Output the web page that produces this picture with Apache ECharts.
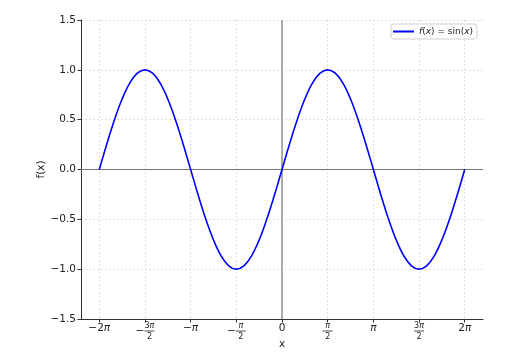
<!DOCTYPE html>
<html>
<head>
<meta charset="utf-8">
<script src="https://cdn.jsdelivr.net/npm/echarts@6/dist/echarts.min.js"></script>
<style>
html,body{margin:0;padding:0;background:#fff;}
#chart{width:524px;height:353px;}
</style>
</head>
<body>
<div id="chart"></div>
<script>
// Sample points (x in radians, y = f(x))
const xValues = [-6.283,-6.021,-5.760,-5.498,-5.236,-4.974,-4.712,-4.451,-4.189,-3.927,-3.665,-3.403,-3.142,-2.880,-2.618,-2.356,-2.094,-1.833,-1.571,-1.309,-1.047,-0.785,-0.524,-0.262,0,0.262,0.524,0.785,1.047,1.309,1.571,1.833,2.094,2.356,2.618,2.880,3.142,3.403,3.665,3.927,4.189,4.451,4.712,4.974,5.236,5.498,5.760,6.021,6.283];
const yValues = [0,0.259,0.5,0.707,0.866,0.966,1,0.966,0.866,0.707,0.5,0.259,0,-0.259,-0.5,-0.707,-0.866,-0.966,-1,-0.966,-0.866,-0.707,-0.5,-0.259,0,0.259,0.5,0.707,0.866,0.966,1,0.966,0.866,0.707,0.5,0.259,0,-0.259,-0.5,-0.707,-0.866,-0.966,-1,-0.966,-0.866,-0.707,-0.5,-0.259,0];
const xTickPositions = [-6.2832,-4.7124,-3.1416,-1.5708,0,1.5708,3.1416,4.7124,6.2832];
const xTickLabels = ['−2π','−3π/2','−π','−π/2','0','π/2','π','3π/2','2π'];
const yTicks = [-1.5,-1.0,-0.5,0.0,0.5,1.0,1.5];
const seriesName = 'f(x) = sin(x)';
const xAxisTitle = 'x';
const yAxisTitle = 'f(x)';

const FONT = 'DejaVu Sans';
const TXT = '#222';

function richLabel(lbl){
  if (lbl.indexOf('/') >= 0) {
    const neg = lbl[0] === '−';
    const body = neg ? lbl.slice(1) : lbl;
    const parts = body.split('/');
    const num = parts[0];
    const den = parts[1];
    const numRich = num.split('').map(ch => ch === 'π' ? '{p|π}' : '{n|' + ch + '}').join('');
    const lead0 = neg ? '{m0|}' : '';
    const lead = neg ? '{m|−}' : '';
    return lead0 + numRich + '\n' + lead + '{bar| }' + '\n' + lead0 + '{n|' + den + '}';
  }
  return lbl.split('').map(ch => ch === 'π' ? '{pi|π}' : '{t|' + ch + '}').join('');
}

const data = xValues.map((x, i) => [x, yValues[i]]);
const chart = echarts.init(document.getElementById('chart'), null, {renderer: 'canvas'});
chart.setOption({
  animation: false,
  backgroundColor: '#fff',
  grid: {left: 81, right: 41, top: 20, bottom: 34, containLabel: false, outerBoundsMode: 'none'},
  legend: {
    right: 47, top: 24,
    orient: 'vertical',
    padding: [2, 4, 2, 2],
    backgroundColor: '#fff',
    borderColor: '#d0d0d0',
    borderWidth: 1,
    borderRadius: 3,
    itemWidth: 21,
    itemHeight: 2,
    itemGap: 4,
    textStyle: {
      fontFamily: FONT, fontSize: 9, color: TXT, lineHeight: 11,
      rich: {
        i: {fontFamily: FONT, fontSize: 9, fontStyle: 'italic', color: TXT},
        r: {fontFamily: FONT, fontSize: 9, color: TXT}
      }
    },
    formatter: function(){ return '{i|f}{r|(}{i|x}{r|) = sin(}{i|x}{r|)}'; },
    data: [{name: seriesName, icon: 'rect', itemStyle: {color: '#0000ff'}}]
  },
  xAxis: {
    type: 'value',
    min: -6.9115, max: 6.9115,
    name: xAxisTitle,
    nameLocation: 'middle',
    nameGap: 20,
    nameMoveOverlap: false,
    nameTextStyle: {fontFamily: FONT, fontSize: 10.5, color: TXT},
    axisLine: {show: true, onZero: false, lineStyle: {color: '#333', width: 1}},
    axisTick: {show: true, length: 3.5, customValues: xTickPositions, lineStyle: {color: '#333'}},
    axisLabel: {
      customValues: xTickPositions,
      margin: 3,
      color: TXT,
      fontFamily: FONT,
      fontSize: 10,
      formatter: function(v){
        let best = 0;
        for (let i = 0; i < xTickPositions.length; i++) {
          if (Math.abs(xTickPositions[i] - v) < Math.abs(xTickPositions[best] - v)) best = i;
        }
        return richLabel(xTickLabels[best]);
      },
      rich: {
        t: {fontFamily: FONT, fontSize: 10.5, color: TXT, lineHeight: 13},
        pi: {fontFamily: FONT, fontSize: 10.5, fontStyle: 'italic', color: TXT, lineHeight: 13},
        n: {fontFamily: FONT, fontSize: 8, color: TXT, lineHeight: 7},
        p: {fontFamily: FONT, fontSize: 8, fontStyle: 'italic', color: TXT, lineHeight: 7},
        m: {fontFamily: FONT, fontSize: 10.5, color: TXT, width: 9, lineHeight: 4, align: 'center'},
        m0: {fontFamily: FONT, fontSize: 8, width: 9, lineHeight: 7},
        bar: {fontSize: 1, width: 10, height: 0.8, lineHeight: 4, backgroundColor: TXT}
      }
    },
    splitLine: {show: true, lineStyle: {color: '#d8d8d8', type: [2, 2], width: 0.8}}
  },
  yAxis: {
    type: 'value',
    min: -1.5, max: 1.5, interval: 0.5,
    name: yAxisTitle,
    nameLocation: 'middle',
    nameGap: 34,
    nameMoveOverlap: false,
    nameRotate: 90,
    nameTextStyle: {fontFamily: FONT, fontSize: 10.5, color: TXT},
    axisLine: {show: true, onZero: false, lineStyle: {color: '#333', width: 1}},
    axisTick: {show: true, length: 3.5, lineStyle: {color: '#333'}},
    axisLabel: {
      margin: 5, color: TXT, fontFamily: FONT, fontSize: 10.5,
      formatter: function(v){
        let best = yTicks[0];
        yTicks.forEach(t => { if (Math.abs(t - v) < Math.abs(best - v)) best = t; });
        return best.toFixed(1).replace('-', '−');
      }
    },
    splitLine: {show: true, lineStyle: {color: '#d8d8d8', type: [2, 2], width: 0.8}}
  },
  series: [{
    name: seriesName,
    type: 'line',
    data: data,
    symbol: 'none',
    smooth: 0.4,
    z: 5,
    lineStyle: {color: '#0000ff', width: 1.6},
    itemStyle: {color: '#0000ff'},
    markLine: {
      silent: true,
      symbol: ['none', 'none'],
      label: {show: false},
      z: 3,
      data: [
        {xAxis: 0, lineStyle: {color: '#999', width: 1.6, type: 'solid'}},
        {yAxis: 0, lineStyle: {color: '#777', width: 1, type: 'solid'}}
      ]
    }
  }]
});
</script>
</body>
</html>
